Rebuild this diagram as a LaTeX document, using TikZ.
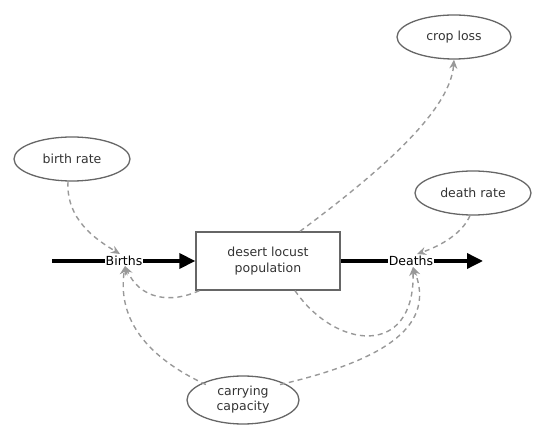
\documentclass[tikz,border=0pt]{standalone}
\usepackage{fontspec}
\setmainfont{DejaVu Sans}
\usetikzlibrary{arrows.meta,shapes.geometric}
\definecolor{edgegray}{HTML}{666666}
\definecolor{linkgray}{HTML}{999999}
\definecolor{txt}{HTML}{333333}
\tikzset{
  aux/.style={ellipse,draw=edgegray,line width=1.3pt,minimum width=116pt,minimum height=44pt,inner sep=0pt,font=\fontsize{12.5}{15}\selectfont,text=txt,align=center},
  stockbox/.style={rectangle,draw=edgegray,line width=1.3pt,minimum width=144pt,minimum height=58pt,inner sep=0pt,font=\fontsize{12.5}{16}\selectfont,text=txt,align=center},
  flow/.style={line width=3.5pt,-{Triangle[length=16pt,width=15pt]}},
  flowlabel/.style={fill=white,inner sep=0.5pt,font=\fontsize{12.5}{15}\selectfont,text=black},
  link/.style={draw=linkgray,line width=1.4pt,dash pattern=on 5pt off 4pt,-{Stealth[length=9pt,width=8pt]}}
}
\begin{document}
\begin{tikzpicture}[x=1pt,y=1pt]
\useasboundingbox (0,0) rectangle (544,434);
\node[aux] (br) at (72,275) {birth rate};
\node[aux,minimum width=114pt] (cl) at (454,397) {crop loss};
\node[aux] (dr) at (473,241) {death rate};
\node[aux,minimum width=112pt,minimum height=48pt] (cc) at (243,34) {carrying\\capacity};
\node[stockbox] (s) at (268,173) {desert locust\\population};
\coordinate (src) at (52,173);
\coordinate (snk) at (483,173);
\draw[flow] (src) -- (s.west);
\draw[flow] (s.east) -- (snk);
\node[flowlabel] (bi) at (124,173) {Births};
\node[flowlabel] (de) at (411,173) {Deaths};
\coordinate (b1) at (120,180);
\coordinate (b2) at (125,168);
\coordinate (d1) at (417,180);
\coordinate (d2) at (413,167);
\draw[link] (br.south) ++(-4,0) .. controls (66,215) and (95,195) .. (b1);
\draw[link] (s.south west) ++(4,0) .. controls (170,130) and (140,135) .. (b2);
\draw[link] (cc.north west) ++(3,-2) .. controls (140,80) and (118,120) .. (b2);
\draw[link] (s.north) ++(32,0) .. controls (370,255) and (450,320) .. (cl.south);
\draw[link] (dr.south) ++(-3,0) .. controls (462,200) and (440,188) .. (d1);
\draw[link] (s.south) ++(27,0) .. controls (335,85) and (415,75) .. (d2);
\draw[link] (cc.north east) ++(-3,-2) .. controls (390,75) and (435,110) .. (d2);
\end{tikzpicture}
\end{document}
